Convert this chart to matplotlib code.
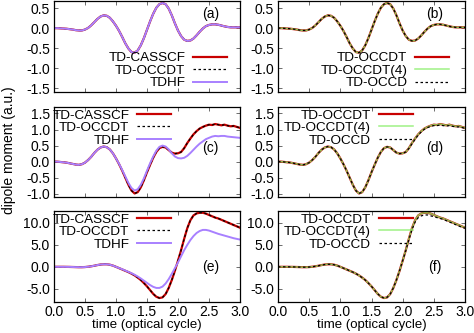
import matplotlib
matplotlib.use('Agg')
import matplotlib.pyplot as plt

plt.rcParams['font.family'] = ['Liberation Sans', 'DejaVu Sans']
plt.rcParams['axes.unicode_minus'] = False

# time grid (optical cycles), step 0.05
t = [0.00, 0.05, 0.10, 0.15, 0.20, 0.25, 0.30, 0.35, 0.40, 0.45,
     0.50, 0.55, 0.60, 0.65, 0.70, 0.75, 0.80, 0.85, 0.90, 0.95,
     1.00, 1.05, 1.10, 1.15, 1.20, 1.25, 1.30, 1.35, 1.40, 1.45,
     1.50, 1.55, 1.60, 1.65, 1.70, 1.75, 1.80, 1.85, 1.90, 1.95,
     2.00, 2.05, 2.10, 2.15, 2.20, 2.25, 2.30, 2.35, 2.40, 2.45,
     2.50, 2.55, 2.60, 2.65, 2.70, 2.75, 2.80, 2.85, 2.90, 2.95, 3.00]

# row 1 (a),(b): all methods coincide
top_all = [0.000, 0.000, -0.005, -0.010, -0.015, -0.025, -0.035, -0.050, -0.058, -0.058,
           -0.035, 0.005, 0.070, 0.150, 0.230, 0.290, 0.320, 0.310, 0.260, 0.170,
           0.060, -0.070, -0.220, -0.380, -0.510, -0.600, -0.615, -0.560, -0.430, -0.250,
           -0.040, 0.170, 0.360, 0.510, 0.600, 0.630, 0.600, 0.490, 0.320, 0.120,
           -0.060, -0.200, -0.290, -0.320, -0.310, -0.260, -0.180, -0.090, -0.010, 0.050,
           0.080, 0.095, 0.095, 0.085, 0.065, 0.045, 0.030, 0.020, 0.020, 0.020, 0.020]

# row 2 (c),(d)
mid_casscf = [0.00, 0.00, -0.01, -0.02, -0.03, -0.05, -0.07, -0.09, -0.10, -0.08,
              -0.03, 0.05, 0.15, 0.27, 0.37, 0.44, 0.47, 0.45, 0.38, 0.26,
              0.10, -0.08, -0.28, -0.50, -0.72, -0.90, -0.99, -0.95, -0.80, -0.58,
              -0.33, -0.10, 0.12, 0.30, 0.42, 0.46, 0.44, 0.36, 0.28, 0.25,
              0.26, 0.30, 0.42, 0.58, 0.72, 0.85, 0.95, 1.03, 1.08, 1.12,
              1.15, 1.14, 1.17, 1.15, 1.13, 1.15, 1.12, 1.10, 1.11, 1.08, 1.05]
mid_tdhf = [0.00, 0.00, -0.01, -0.02, -0.03, -0.05, -0.07, -0.09, -0.10, -0.08,
            -0.03, 0.05, 0.15, 0.27, 0.37, 0.44, 0.47, 0.45, 0.38, 0.26,
            0.10, -0.07, -0.26, -0.46, -0.66, -0.82, -0.90, -0.86, -0.72, -0.52,
            -0.28, -0.05, 0.16, 0.34, 0.46, 0.50, 0.47, 0.38, 0.26, 0.16,
            0.11, 0.10, 0.12, 0.18, 0.27, 0.37, 0.47, 0.56, 0.63, 0.70,
            0.74, 0.78, 0.80, 0.79, 0.80, 0.80, 0.78, 0.77, 0.76, 0.75, 0.74]
mid_occd = [0.00, 0.00, -0.01, -0.02, -0.03, -0.05, -0.07, -0.09, -0.10, -0.08,
            -0.03, 0.05, 0.15, 0.27, 0.37, 0.44, 0.47, 0.45, 0.38, 0.26,
            0.10, -0.08, -0.28, -0.50, -0.72, -0.90, -0.99, -0.95, -0.80, -0.58,
            -0.33, -0.10, 0.12, 0.30, 0.42, 0.46, 0.44, 0.36, 0.28, 0.25,
            0.26, 0.30, 0.41, 0.56, 0.70, 0.83, 0.93, 1.01, 1.06, 1.10,
            1.12, 1.12, 1.14, 1.12, 1.11, 1.12, 1.10, 1.08, 1.08, 1.06, 1.04]

# row 3 (e),(f)
bot_casscf = [0.00, 0.00, 0.00, 0.00, -0.01, -0.02, -0.04, -0.06, -0.08, -0.08,
              -0.05, 0.02, 0.12, 0.25, 0.40, 0.52, 0.58, 0.58, 0.48, 0.28,
              0.00, -0.30, -0.60, -0.90, -1.20, -1.55, -1.95, -2.45, -3.00, -3.70,
              -4.45, -5.30, -6.15, -6.80, -7.10, -6.95, -6.20, -4.80, -3.00, -0.90,
              1.40, 3.80, 6.40, 8.80, 10.60, 11.70, 12.15, 12.30, 12.30, 12.10,
              11.80, 11.50, 11.20, 11.00, 10.70, 10.40, 10.10, 9.80, 9.50, 9.20, 8.90]
bot_tdhf = [0.00, 0.00, 0.00, 0.00, -0.01, -0.02, -0.04, -0.06, -0.08, -0.08,
            -0.05, 0.02, 0.12, 0.25, 0.40, 0.52, 0.58, 0.58, 0.48, 0.28,
            0.00, -0.28, -0.55, -0.85, -1.15, -1.45, -1.80, -2.20, -2.65, -3.15,
            -3.65, -4.15, -4.55, -4.80, -4.80, -4.50, -3.80, -2.80, -1.60, -0.30,
            1.00, 2.40, 3.80, 5.00, 6.10, 7.00, 7.70, 8.15, 8.40, 8.40,
            8.25, 8.00, 7.75, 7.50, 7.30, 7.10, 6.90, 6.70, 6.50, 6.35, 6.20]
bot_occd = [0.00, 0.00, 0.00, 0.00, -0.01, -0.02, -0.04, -0.06, -0.08, -0.08,
            -0.05, 0.02, 0.12, 0.25, 0.40, 0.52, 0.58, 0.58, 0.48, 0.28,
            0.00, -0.30, -0.60, -0.90, -1.20, -1.55, -1.95, -2.45, -3.00, -3.70,
            -4.45, -5.30, -6.15, -6.80, -7.10, -6.95, -6.20, -4.80, -3.00, -0.90,
            1.40, 3.70, 6.20, 8.50, 10.20, 11.20, 11.60, 11.80, 11.80, 11.60,
            11.40, 11.20, 11.00, 10.80, 10.50, 10.20, 9.90, 9.60, 9.30, 9.00, 8.80]

xticks = [0.0, 0.5, 1.0, 1.5, 2.0, 2.5, 3.0]
row_yticks = [[-1.5, -1.0, -0.5, 0.0, 0.5],
              [-1.0, -0.5, 0.0, 0.5, 1.0, 1.5],
              [-5.0, 0.0, 5.0, 10.0]]
row_ylim = [(-1.6, 0.68), (-1.1, 1.7), (-8.0, 12.7)]

red = '#c80000'
purple = '#a880ff'
green = '#88ee66'

W, H = 474, 333
fig = plt.figure(figsize=(W / 100, H / 100), dpi=100)

# axes boxes in pixels: (left, right) and (top, bottom)
cols = [(54, 240), (278, 465)]
rows = [(1, 92), (107, 197), (211, 302)]

axes = []
for r, (y0, y1) in enumerate(rows):
    line = []
    for c, (x0, x1) in enumerate(cols):
        ax = fig.add_axes([x0 / W, 1 - y1 / H, (x1 - x0) / W, (y1 - y0) / H])
        ax.set_xlim(0, 3)
        ax.set_ylim(*row_ylim[r])
        ax.set_xticks(xticks)
        ax.set_yticks(row_yticks[r])
        ax.set_yticklabels(['%.1f' % v for v in row_yticks[r]])
        ax.tick_params(direction='in', top=True, right=True, labelsize=10,
                       length=3, width=0.6, color='#555555', pad=3)
        ax.tick_params(axis='x', pad=2)
        if r < 2:
            ax.set_xticklabels([])
        else:
            ax.set_xticklabels(['%.1f' % v for v in xticks])
            ax.set_xlabel('time (optical cycle)', fontsize=9.5, labelpad=0)
        for s in ax.spines.values():
            s.set_linewidth(0.9)
        line.append(ax)
    axes.append(line)

# left column: TD-CASSCF / TD-OCCDT / TDHF
left_data = [(top_all, top_all, top_all), (mid_casscf, mid_casscf, mid_tdhf),
             (bot_casscf, bot_casscf, bot_tdhf)]
for r, (cas, occdt, hf) in enumerate(left_data):
    ax = axes[r][0]
    ax.plot(t, cas, color=red, lw=1.6, label='TD-CASSCF')
    ax.plot(t, occdt, color='black', lw=0.9, dashes=(2, 2), label='TD-OCCDT')
    ax.plot(t, hf, color=purple, lw=1.4, label='TDHF')

# right column: TD-OCCDT / TD-OCCDT(4) / TD-OCCD
right_data = [(top_all, top_all, top_all), (mid_casscf, mid_casscf, mid_occd),
              (bot_casscf, bot_casscf, bot_occd)]
for r, (occdt, occdt4, occd) in enumerate(right_data):
    ax = axes[r][1]
    ax.plot(t, occdt, color=red, lw=1.6, label='TD-OCCDT')
    ax.plot(t, occdt4, color=green, lw=1.1, alpha=0.8, label='TD-OCCDT(4)')
    ax.plot(t, occd, color='black', lw=0.9, dashes=(2, 2), label='TD-OCCD')

leg_kw = dict(frameon=False, markerfirst=False, fontsize=9.7, labelspacing=0.0,
              handlelength=2.5, handletextpad=0.6, borderpad=0, borderaxespad=0)
axes[0][0].legend(loc='lower right', bbox_to_anchor=(0.93, 0.03), **leg_kw)
axes[0][1].legend(loc='lower right', bbox_to_anchor=(0.915, 0.03), **leg_kw)
axes[1][0].legend(loc='upper right', bbox_to_anchor=(0.63, 0.975), **leg_kw)
axes[1][1].legend(loc='upper right', bbox_to_anchor=(0.72, 0.975), **leg_kw)
axes[2][0].legend(loc='upper right', bbox_to_anchor=(0.63, 0.975), **leg_kw)
axes[2][1].legend(loc='upper right', bbox_to_anchor=(0.72, 0.975), **leg_kw)

tags = [['(a)', '(b)'], ['(c)', '(d)'], ['(e)', '(f)']]
tag_y = [0.86, 0.54, 0.385]
for r in range(3):
    for c in range(2):
        axes[r][c].text(0.84, tag_y[r], tags[r][c], transform=axes[r][c].transAxes,
                        fontsize=10, ha='center', va='center')

fig.text(0.018, 0.55, 'dipole moment (a.u.)', rotation=90, fontsize=10,
         ha='center', va='center')

fig.savefig('out.png', dpi=100)
